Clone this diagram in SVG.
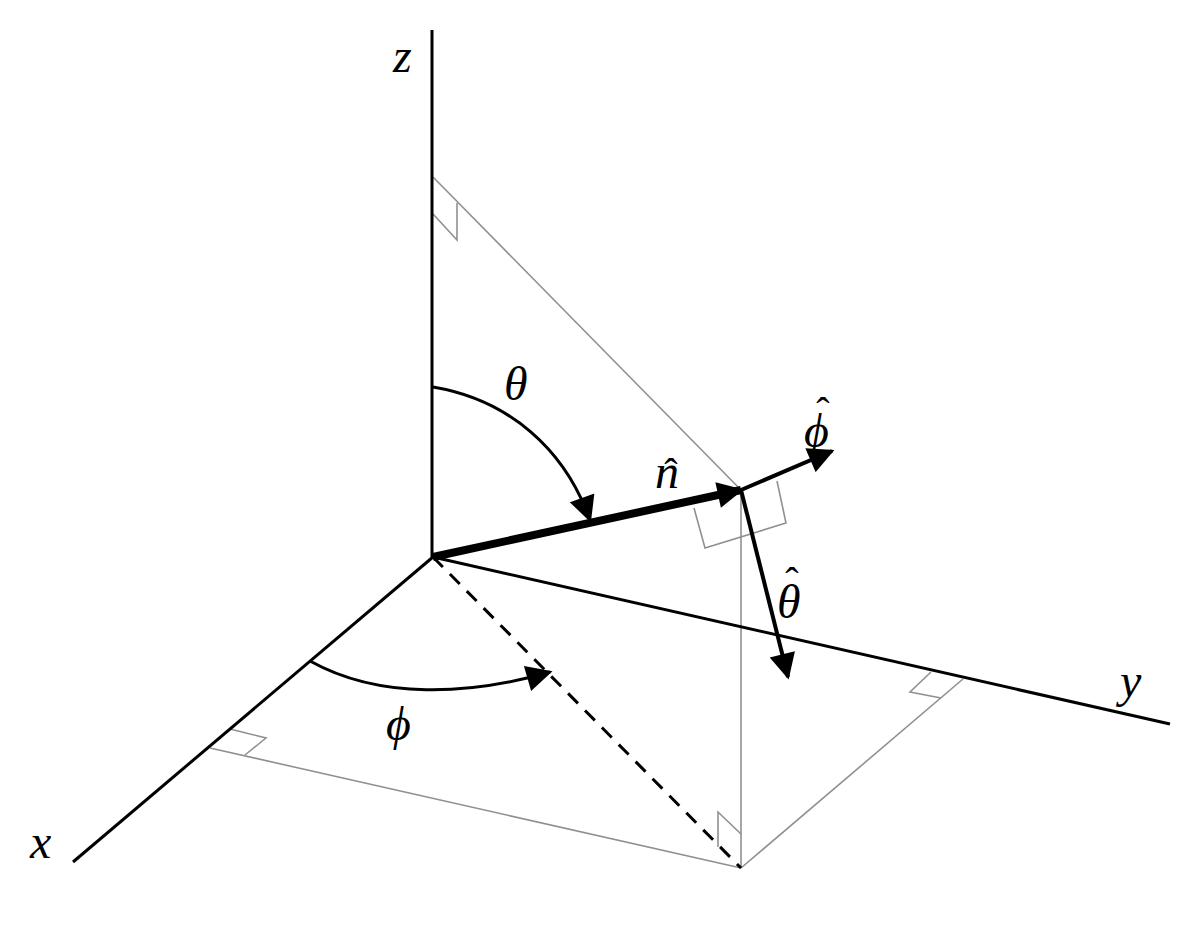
<svg xmlns="http://www.w3.org/2000/svg" width="1186" height="941" viewBox="0 0 1186 941">
<style>
.ax{stroke:#000;stroke-width:3;fill:none}
.g{stroke:#909090;stroke-width:1.6;fill:none}
.t{font-family:"Liberation Serif",serif;font-style:italic;font-size:48px;fill:#000}
.h{font-family:"Liberation Serif",serif;font-size:40px;fill:#000;text-anchor:middle}
</style>
<defs>
<marker id="ah" viewBox="0 0 10 10" refX="9" refY="5" markerWidth="32" markerHeight="26" markerUnits="userSpaceOnUse" orient="auto"><path d="M0,0 L10,5 L0,10 z" fill="#000"/></marker>
<marker id="ah2" viewBox="0 0 10 10" refX="9" refY="5" markerWidth="28" markerHeight="26" markerUnits="userSpaceOnUse" orient="auto"><path d="M0,0 L10,5 L0,10 z" fill="#000"/></marker>
</defs>
<g id="guides">
<line class="g" x1="433" y1="177" x2="741" y2="490"/>
<line class="g" x1="741" y1="490" x2="741" y2="868"/>
<line class="g" x1="210" y1="748" x2="741" y2="868"/>
<line class="g" x1="963" y1="679" x2="741" y2="868"/>
<polyline class="g" points="433,214 457,240 457,203"/>
<polyline class="g" points="230,729 266,738 245,755"/>
<polyline class="g" points="931,672 910,692 941,698"/>
<polyline class="g" points="718,847 718,812 741,834"/>
<polyline class="g" points="694,508 705,548 786,523 777,481"/>
</g>
<g id="axes">
<line class="ax" x1="432" y1="30" x2="432" y2="557"/>
<line class="ax" x1="433" y1="557" x2="73" y2="862"/>
<line class="ax" x1="433" y1="557" x2="1170" y2="724"/>
<line x1="433" y1="557" x2="741" y2="868" stroke="#000" stroke-width="3" stroke-dasharray="14,10"/>
</g>
<g id="connectors">
<path class="ax" d="M433,387 C510,400 565,450 590,520" marker-end="url(#ah2)"/>
<path class="ax" d="M310,661 C380,700 470,695 550,672" marker-end="url(#ah2)"/>
<line x1="433" y1="557" x2="741" y2="490" stroke="#000" stroke-width="8" marker-end="url(#ah)"/>
<line x1="741" y1="490" x2="832" y2="451" stroke="#000" stroke-width="4" marker-end="url(#ah2)"/>
<line x1="741" y1="490" x2="788" y2="677" stroke="#000" stroke-width="4" marker-end="url(#ah2)"/>
</g>
<g id="labels">
<text class="t" x="393" y="72">z</text>
<text class="t" x="30" y="858">x</text>
<text class="t" x="1120" y="697">y</text>
<text class="t" x="504" y="400">θ</text>
<text class="t" x="386" y="740">ϕ</text>
<text class="t" x="655" y="488">n</text>
<text class="h" x="671" y="486">ˆ</text>
<text class="t" x="804" y="447">ϕ</text>
<text class="h" x="823" y="425">ˆ</text>
<text class="t" x="777" y="618">θ</text>
<text class="h" x="792" y="595">ˆ</text>
</g>
</svg>
